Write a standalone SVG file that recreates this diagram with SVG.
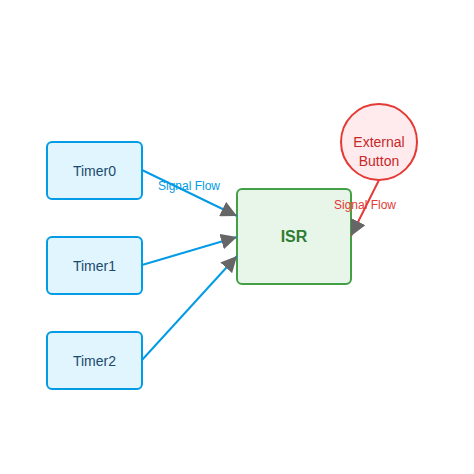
<svg xmlns="http://www.w3.org/2000/svg" width="474" height="474" viewBox="0 0 474 474">
<defs>
<style>
.timer rect{fill:#e1f5fe;stroke:#039be5;stroke-width:2}
.timer text{fill:#1a4a6e;font-family:"Liberation Sans",Arial,sans-serif;font-size:14px;text-anchor:middle;dominant-baseline:central}
.isr rect{fill:#e8f5e9;stroke:#43a047;stroke-width:2}
.isr text{fill:#2e7d32;font-family:"Liberation Sans",Arial,sans-serif;font-size:16px;font-weight:bold;text-anchor:middle;dominant-baseline:central}
.btn circle{fill:#ffebee;stroke:#e53935;stroke-width:2}
.btn text{fill:#c62828;font-family:"Liberation Sans",Arial,sans-serif;font-size:14px;text-anchor:middle;dominant-baseline:central}
.edge{fill:none;stroke-width:2}
.blue{stroke:#039be5}
.red{stroke:#e53935}
.lbl{font-family:"Liberation Sans",Arial,sans-serif;font-size:12px;text-anchor:middle}
</style>
<marker id="arr" viewBox="0 0 10 10" refX="10" refY="5" markerWidth="16" markerHeight="16" markerUnits="userSpaceOnUse" orient="auto">
<path d="M0,0 L10,5 L0,10 Z" fill="#666"/>
</marker>
</defs>
<rect width="474" height="474" fill="#fff"/>
<g id="timer0" class="timer"><rect x="47" y="142" width="95" height="57" rx="5"/><text x="94.5" y="170.5">Timer0</text></g>
<g id="timer1" class="timer"><rect x="47" y="237" width="95" height="57" rx="5"/><text x="94.5" y="265.5">Timer1</text></g>
<g id="timer2" class="timer"><rect x="47" y="332" width="95" height="57" rx="5"/><text x="94.5" y="360.5">Timer2</text></g>
<g id="isr" class="isr"><rect x="237" y="189" width="114" height="95" rx="5"/><text x="294" y="236.5">ISR</text></g>
<g id="button" class="btn"><circle cx="379" cy="142" r="38"/><text x="379" y="142">External</text><text x="379" y="161">Button</text></g>
<g id="connectors">
<line class="edge blue" x1="142" y1="170" x2="237" y2="216" marker-end="url(#arr)"/>
<line class="edge blue" x1="142" y1="265" x2="237" y2="237" marker-end="url(#arr)"/>
<line class="edge blue" x1="142" y1="360" x2="237" y2="256" marker-end="url(#arr)"/>
<line class="edge red" x1="379" y1="180" x2="351" y2="236" marker-end="url(#arr)"/>
<text class="lbl" x="189" y="190" fill="#039be5">Signal Flow</text>
<text class="lbl" x="365" y="209" fill="#e53935">Signal Flow</text>
</g>
</svg>
